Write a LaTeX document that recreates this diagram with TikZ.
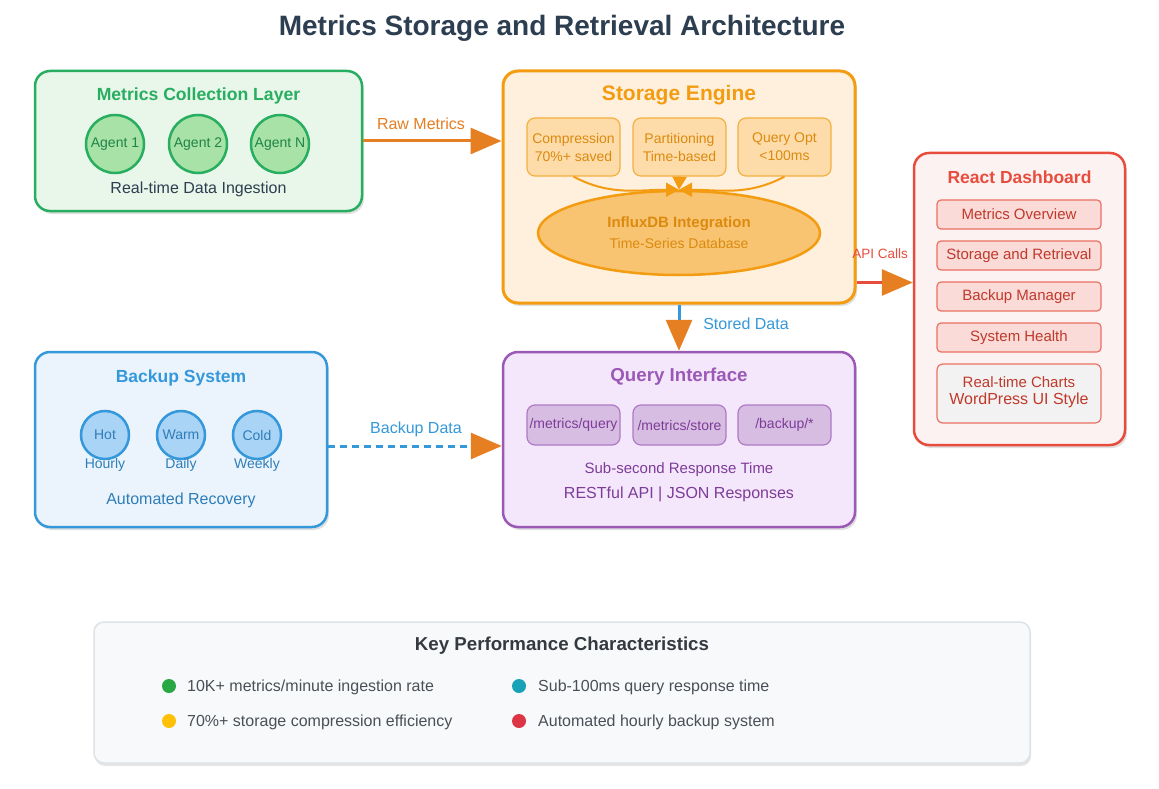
\documentclass[tikz,border=0pt]{standalone}
\usepackage{fontspec}
\setmainfont{Liberation Sans}
\usetikzlibrary{arrows.meta,shapes.geometric,shadows}
\definecolor{titleC}{HTML}{2C3E50}
\definecolor{grS}{HTML}{27AE60}
\definecolor{grF}{HTML}{E9F6EA}
\definecolor{grC}{HTML}{A9E2A6}
\definecolor{grT}{HTML}{1E8449}
\definecolor{orS}{HTML}{F39C12}
\definecolor{orF}{HTML}{FEF0DC}
\definecolor{orB}{HTML}{FDDCAA}
\definecolor{orBS}{HTML}{F5B041}
\definecolor{orT}{HTML}{DC8A0E}
\definecolor{orE}{HTML}{F8C471}
\definecolor{arrOr}{HTML}{E67E22}
\definecolor{rdS}{HTML}{E74C3C}
\definecolor{rdF}{HTML}{FDF2F2}
\definecolor{rdB}{HTML}{FADBD8}
\definecolor{rdBS}{HTML}{EC7063}
\definecolor{rdT}{HTML}{C0392B}
\definecolor{grayB}{HTML}{F2F2F2}
\definecolor{blS}{HTML}{3498DB}
\definecolor{blF}{HTML}{EBF4FC}
\definecolor{blC}{HTML}{AAD4F5}
\definecolor{blT}{HTML}{2E7DB8}
\definecolor{puS}{HTML}{9B59B6}
\definecolor{puF}{HTML}{F4E6FB}
\definecolor{puB}{HTML}{D7BDE2}
\definecolor{puBS}{HTML}{AF7AC5}
\definecolor{puT}{HTML}{7D3C98}
\definecolor{kpF}{HTML}{F8F9FA}
\definecolor{kpS}{HTML}{DEE2E6}
\definecolor{kpT}{HTML}{343A40}
\definecolor{kpX}{HTML}{495057}
\definecolor{dGreen}{HTML}{28A745}
\definecolor{dYellow}{HTML}{FFC107}
\definecolor{dTeal}{HTML}{17A2B8}
\definecolor{dRed}{HTML}{DC3545}
\begin{document}
\begin{tikzpicture}[x=1pt,y=-1pt,
  f14/.style={font=\fontsize{14}{18}\selectfont},
  f15/.style={font=\fontsize{15}{18}\selectfont},
  f16/.style={font=\fontsize{16}{19}\selectfont},
  panel/.style={rectangle, rounded corners=15pt, line width=2.5pt, inner sep=0pt,
    drop shadow={shadow xshift=2pt, shadow yshift=-3pt, opacity=0.12, fill=black}},
  subbox/.style={rectangle, rounded corners=8pt, line width=1.2pt, inner sep=0pt, align=center},
  agent/.style={circle, minimum size=58pt, inner sep=0pt, draw=grS, fill=grC, line width=2.5pt, text=grT, f14},
  tier/.style={circle, minimum size=48pt, inner sep=0pt, draw=blS, fill=blC, line width=2.5pt, text=blT, f14},
  bigarr/.style={line width=3pt, -{Triangle[length=31pt, width=26pt, color=arrOr, fill=arrOr]}},
  smallarr/.style={line width=2pt, draw=orS, -{Triangle[length=13pt, width=14pt, color=orS, fill=orS]}},
  dot/.style={circle, minimum size=14pt, inner sep=0pt}
]
\useasboundingbox[fill=white] (0,0) rectangle (1159,789);

% title
\node[font=\fontsize{28}{32}\selectfont\bfseries, text=titleC] (title) at (562,28) {Metrics Storage and Retrieval Architecture};

% Metrics collection layer
\node[panel, draw=grS, fill=grF, minimum width=327pt, minimum height=140pt] (mcl) at (198.5,141) {};
\node[font=\fontsize{17.6}{20}\selectfont\bfseries, text=grS] (mclT) at (198.5,96) {Metrics Collection Layer};
\node[agent] (a1) at (115,144) {Agent 1};
\node[agent] (a2) at (198,144) {Agent 2};
\node[agent] (an) at (280,144) {Agent N};
\node[f16, text=titleC] (mclI) at (198.5,189) {Real-time Data Ingestion};

% Storage engine
\node[panel, line width=3pt, draw=orS, fill=orF, minimum width=352pt, minimum height=232pt] (se) at (679,187) {};
\node[font=\fontsize{21}{24}\selectfont\bfseries, text=orS] (seT) at (679,95) {Storage Engine};
\node[subbox, draw=orBS, fill=orB, text=orT, f14, minimum width=93pt, minimum height=58pt] (comp) at (573.5,147) {Compression\\70\%+ saved};
\node[subbox, draw=orBS, fill=orB, text=orT, f14, minimum width=93pt, minimum height=58pt] (part) at (679.5,147) {Partitioning\\Time-based};
\node[subbox, draw=orBS, fill=orB, text=orT, f14, minimum width=93pt, minimum height=58pt] (qopt) at (784.5,147) {Query Opt\\<100ms};
\node[ellipse, draw=orS, fill=orE, line width=2.5pt, minimum width=282pt, minimum height=84pt, inner sep=0pt] (influx) at (679,233) {};
\node[font=\fontsize{15}{18}\selectfont\bfseries, text=orT] (influxT) at (679,224) {InfluxDB Integration};
\node[f14, text=orT] (influxS) at (679,243) {Time-Series Database};
\draw[smallarr] (comp.south) to[out=-28, in=180] (influx.north);
\draw[smallarr] (qopt.south) to[out=-152, in=0] (influx.north);
\draw[smallarr] (part.south) -- (influx.north);

% React dashboard
\node[panel, draw=rdS, fill=rdF, minimum width=211pt, minimum height=292pt] (rd) at (1019.5,299) {};
\node[font=\fontsize{17.5}{20}\selectfont\bfseries, text=rdS] (rdT) at (1019.5,177) {React Dashboard};
\node[subbox, rounded corners=4pt, draw=rdBS, fill=rdB, text=rdT, f15, minimum width=164pt, minimum height=29pt] (m1) at (1019,214.5) {Metrics Overview};
\node[subbox, rounded corners=4pt, draw=rdBS, fill=rdB, text=rdT, f15, minimum width=164pt, minimum height=29pt] (m2) at (1019,255.5) {Storage and Retrieval};
\node[subbox, rounded corners=4pt, draw=rdBS, fill=rdB, text=rdT, f15, minimum width=164pt, minimum height=29pt] (m3) at (1019,296.5) {Backup Manager};
\node[subbox, rounded corners=4pt, draw=rdBS, fill=rdB, text=rdT, f15, minimum width=164pt, minimum height=29pt] (m4) at (1019,337.5) {System Health};
\node[subbox, rounded corners=6pt, draw=rdBS, fill=grayB, minimum width=164pt, minimum height=59pt] (m5) at (1019,393.5) {};
\node[f15, text=rdT] (m5a) at (1019,382) {Real-time Charts};
\node[f16, text=rdT] (m5b) at (1019,400) {WordPress UI Style};

% Backup system
\node[panel, draw=blS, fill=blF, minimum width=292pt, minimum height=175pt] (bs) at (181,439.5) {};
\node[font=\fontsize{17.5}{20}\selectfont\bfseries, text=blS] (bsT) at (181,378) {Backup System};
\node[tier] (hot) at (105,435) {Hot};
\node[tier] (warm) at (181,435) {Warm};
\node[tier] (cold) at (257,435) {Cold};
\node[f14, text=blT] (hotL) at (105,465) {Hourly};
\node[f14, text=blT] (warmL) at (181,465) {Daily};
\node[f14, text=blT] (coldL) at (257,465) {Weekly};
\node[f16, text=blT] (bsR) at (181,500) {Automated Recovery};

% Query interface
\node[panel, draw=puS, fill=puF, minimum width=352pt, minimum height=175pt] (qi) at (679,439.5) {};
\node[font=\fontsize{18.7}{22}\selectfont\bfseries, text=puS] (qiT) at (679,377) {Query Interface};
\node[subbox, draw=puBS, fill=puB, text=puT, f14, minimum width=93pt, minimum height=40pt] (e1) at (573.5,425) {/metrics/query};
\node[subbox, draw=puBS, fill=puB, text=puT, f14, minimum width=93pt, minimum height=40pt] (e2) at (679.5,425) {/metrics/store};
\node[subbox, draw=puBS, fill=puB, text=puT, f14, minimum width=93pt, minimum height=40pt] (e3) at (784.5,425) {/backup/*};
\node[f15, text=puT] (qiS) at (679,470) {Sub-second Response Time};
\node[f16, text=puT] (qiR) at (679,494) {RESTful API | JSON Responses};

% connectors
\draw[bigarr, draw=arrOr] (mcl.east) -- (mcl.east -| se.west);
\node[f16, text=arrOr] (rawL) at (421,124) {Raw Metrics};
\draw[bigarr, draw=blS] (se.south) -- (qi.north);
\node[f16, text=blS] (storedL) at (746,324) {Stored Data};
\path (se.south east) ++(0,-22) coordinate (apiS);
\draw[bigarr, draw=rdS] (apiS) -- (apiS -| rd.west);
\node[font=\fontsize{13.5}{16}\selectfont, text=rdS] (apiL) at (880,254) {API Calls};
\path (bs.east) ++(0,6.5) coordinate (bdS);
\draw[bigarr, draw=blS, dash pattern=on 7pt off 5pt] (bdS) -- (bdS -| qi.west);
\node[f16, text=blS] (bdL) at (416,429) {Backup Data};

% key performance
\node[rectangle, rounded corners=10pt, draw=kpS, fill=kpF, line width=1.5pt, minimum width=936pt, minimum height=141pt,
  drop shadow={shadow xshift=1pt, shadow yshift=-3pt, opacity=0.10, fill=black}] (kp) at (562,692.5) {};
\node[font=\fontsize{18.7}{22}\selectfont\bfseries, text=kpT] (kpT) at (562,646) {Key Performance Characteristics};
\node[dot, fill=dGreen] (d1) at (169,686) {};
\node[dot, fill=dYellow] (d2) at (169,721) {};
\node[dot, fill=dTeal] (d3) at (519,686) {};
\node[dot, fill=dRed] (d4) at (519,721) {};
\node[f16, text=kpX, anchor=west, inner xsep=0pt] (k1) at (187,687) {10K+ metrics/minute ingestion rate};
\node[f16, text=kpX, anchor=west, inner xsep=0pt] (k2) at (187,722) {70\%+ storage compression efficiency};
\node[f16, text=kpX, anchor=west, inner xsep=0pt] (k3) at (538,687) {Sub-100ms query response time};
\node[f16, text=kpX, anchor=west, inner xsep=0pt] (k4) at (538,722) {Automated hourly backup system};
\end{tikzpicture}
\end{document}
